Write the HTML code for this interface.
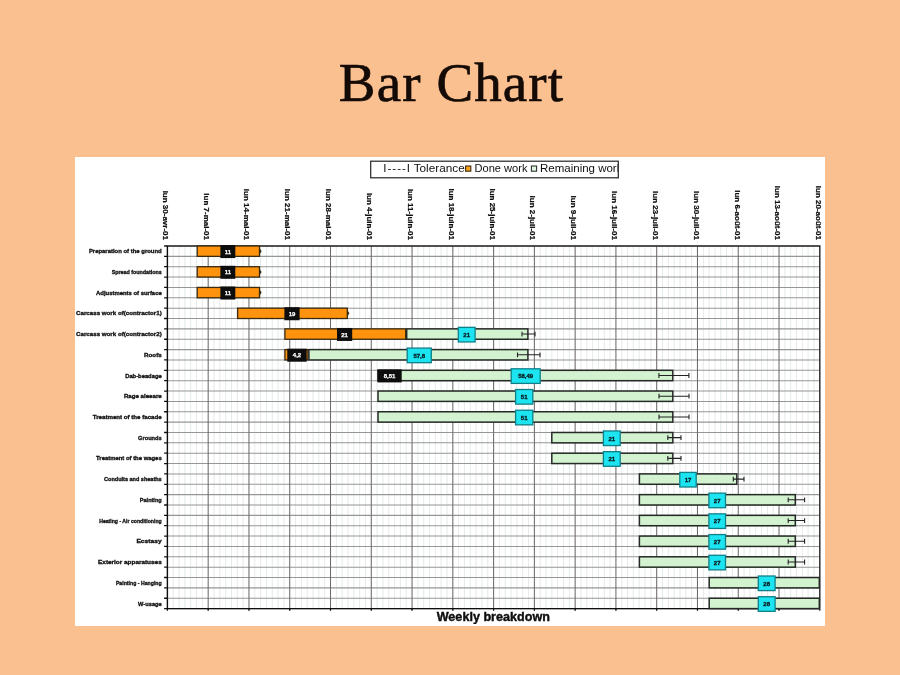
<!DOCTYPE html>
<html><head><meta charset="utf-8"><title>Bar Chart</title>
<style>
html,body{margin:0;padding:0;}
body{width:900px;height:675px;background:#FAC090;overflow:hidden;position:relative;font-family:"Liberation Sans",sans-serif;}
#title{position:absolute;left:0;top:51px;width:903px;text-align:center;font-family:"Liberation Serif",serif;font-size:55px;line-height:64px;color:#140a06;letter-spacing:1.1px;-webkit-text-stroke:0.7px #140a06;white-space:nowrap;}
</style></head><body>
<div id="title">Bar Chart</div>
<svg width="900" height="675" viewBox="0 0 900 675" style="position:absolute;left:0;top:0" font-family="'Liberation Sans', sans-serif">
<defs><filter id="b" x="-2%" y="-2%" width="104%" height="104%"><feGaussianBlur stdDeviation="0.45"/></filter></defs>
<rect x="75" y="157" width="750" height="469" fill="#ffffff"/>
<g filter="url(#b)">
<path d="M173.22 246V608.6M179.05 246V608.6M184.88 246V608.6M190.7 246V608.6M196.53 246V608.6M202.35 246V608.6M214 246V608.6M219.82 246V608.6M225.65 246V608.6M231.48 246V608.6M237.3 246V608.6M243.12 246V608.6M254.78 246V608.6M260.6 246V608.6M266.43 246V608.6M272.25 246V608.6M278.07 246V608.6M283.9 246V608.6M295.55 246V608.6M301.38 246V608.6M307.2 246V608.6M313.02 246V608.6M318.85 246V608.6M324.68 246V608.6M336.32 246V608.6M342.15 246V608.6M347.98 246V608.6M353.8 246V608.6M359.62 246V608.6M365.45 246V608.6M377.1 246V608.6M382.93 246V608.6M388.75 246V608.6M394.57 246V608.6M400.4 246V608.6M406.23 246V608.6M417.88 246V608.6M423.7 246V608.6M429.52 246V608.6M435.35 246V608.6M441.17 246V608.6M447 246V608.6M458.65 246V608.6M464.48 246V608.6M470.3 246V608.6M476.12 246V608.6M481.95 246V608.6M487.77 246V608.6M499.42 246V608.6M505.25 246V608.6M511.08 246V608.6M516.9 246V608.6M522.73 246V608.6M528.55 246V608.6M540.2 246V608.6M546.02 246V608.6M551.85 246V608.6M557.67 246V608.6M563.5 246V608.6M569.33 246V608.6M580.98 246V608.6M586.8 246V608.6M592.62 246V608.6M598.45 246V608.6M604.27 246V608.6M610.1 246V608.6M621.75 246V608.6M627.58 246V608.6M633.4 246V608.6M639.23 246V608.6M645.05 246V608.6M650.88 246V608.6M662.52 246V608.6M668.35 246V608.6M674.17 246V608.6M680 246V608.6M685.82 246V608.6M691.65 246V608.6M703.3 246V608.6M709.12 246V608.6M714.95 246V608.6M720.77 246V608.6M726.6 246V608.6M732.42 246V608.6M744.07 246V608.6M749.9 246V608.6M755.72 246V608.6M761.55 246V608.6M767.38 246V608.6M773.2 246V608.6M784.85 246V608.6M790.67 246V608.6M796.5 246V608.6M802.32 246V608.6M808.15 246V608.6M813.97 246V608.6" stroke="#e2e8e8" stroke-width="0.9" fill="none"/>
<path d="M167.4 246H819.8M167.4 256.36H819.8M167.4 266.72H819.8M167.4 277.08H819.8M167.4 287.44H819.8M167.4 297.8H819.8M167.4 308.16H819.8M167.4 318.52H819.8M167.4 328.88H819.8M167.4 339.24H819.8M167.4 349.6H819.8M167.4 359.96H819.8M167.4 370.32H819.8M167.4 380.68H819.8M167.4 391.04H819.8M167.4 401.4H819.8M167.4 411.76H819.8M167.4 422.12H819.8M167.4 432.48H819.8M167.4 442.84H819.8M167.4 453.2H819.8M167.4 463.56H819.8M167.4 473.92H819.8M167.4 484.28H819.8M167.4 494.64H819.8M167.4 505H819.8M167.4 515.36H819.8M167.4 525.72H819.8M167.4 536.08H819.8M167.4 546.44H819.8M167.4 556.8H819.8M167.4 567.16H819.8M167.4 577.52H819.8M167.4 587.88H819.8M167.4 598.24H819.8M167.4 608.6H819.8" stroke="#969696" stroke-width="1.05" fill="none"/>
<path d="M208.18 246V610.6M248.95 246V610.6M289.73 246V610.6M330.5 246V610.6M371.27 246V610.6M412.05 246V610.6M452.83 246V610.6M493.6 246V610.6M534.38 246V610.6M575.15 246V610.6M615.92 246V610.6M656.7 246V610.6M697.47 246V610.6M738.25 246V610.6M779.02 246V610.6" stroke="#6c6c6c" stroke-width="1.05" fill="none"/>
<path d="M167.4 246H819.8V608.6" stroke="#2c2c2c" stroke-width="1.45" fill="none"/>
<path d="M167.4 245.5V608.6H819.8" stroke="#111" stroke-width="1.4" fill="none"/>
<path d="M164.1 246H167.4M164.1 256.36H167.4M164.1 266.72H167.4M164.1 277.08H167.4M164.1 287.44H167.4M164.1 297.8H167.4M164.1 308.16H167.4M164.1 318.52H167.4M164.1 328.88H167.4M164.1 339.24H167.4M164.1 349.6H167.4M164.1 359.96H167.4M164.1 370.32H167.4M164.1 380.68H167.4M164.1 391.04H167.4M164.1 401.4H167.4M164.1 411.76H167.4M164.1 422.12H167.4M164.1 432.48H167.4M164.1 442.84H167.4M164.1 453.2H167.4M164.1 463.56H167.4M164.1 473.92H167.4M164.1 484.28H167.4M164.1 494.64H167.4M164.1 505H167.4M164.1 515.36H167.4M164.1 525.72H167.4M164.1 536.08H167.4M164.1 546.44H167.4M164.1 556.8H167.4M164.1 567.16H167.4M164.1 577.52H167.4M164.1 587.88H167.4M164.1 598.24H167.4M164.1 608.6H167.4" stroke="#111" stroke-width="1.3" fill="none"/>
<path d="M167.4 608.6V610.8M208.18 608.6V610.8M248.95 608.6V610.8M289.73 608.6V610.8M330.5 608.6V610.8M371.27 608.6V610.8M412.05 608.6V610.8M452.83 608.6V610.8M493.6 608.6V610.8M534.38 608.6V610.8M575.15 608.6V610.8M615.92 608.6V610.8M656.7 608.6V610.8M697.47 608.6V610.8M738.25 608.6V610.8M779.02 608.6V610.8M819.8 608.6V610.8" stroke="#111" stroke-width="1.2" fill="none"/>
<rect x="197.2" y="246" width="62.3" height="10.36" fill="#ff930a" stroke="#3a2a10" stroke-width="1.3"/>
<path d="M259.7 248.18L261.6 251.18L259.7 254.18Z" fill="#3a2a10"/>
<rect x="220.4" y="245.08" width="14.9" height="13" fill="#0a0a0a"/>
<text x="227.85" y="253.68" font-size="6" font-weight="bold" fill="#fff" stroke="#fff" stroke-width="0.25" text-anchor="middle">11</text>
<rect x="197.2" y="266.72" width="62.3" height="10.36" fill="#ff930a" stroke="#3a2a10" stroke-width="1.3"/>
<path d="M259.7 268.9L261.6 271.9L259.7 274.9Z" fill="#3a2a10"/>
<rect x="220.4" y="265.8" width="14.9" height="13" fill="#0a0a0a"/>
<text x="227.85" y="274.4" font-size="6" font-weight="bold" fill="#fff" stroke="#fff" stroke-width="0.25" text-anchor="middle">11</text>
<rect x="197.2" y="287.44" width="62.3" height="10.36" fill="#ff930a" stroke="#3a2a10" stroke-width="1.3"/>
<path d="M259.7 289.62L261.6 292.62L259.7 295.62Z" fill="#3a2a10"/>
<rect x="220.4" y="286.52" width="14.9" height="13" fill="#0a0a0a"/>
<text x="227.85" y="295.12" font-size="6" font-weight="bold" fill="#fff" stroke="#fff" stroke-width="0.25" text-anchor="middle">11</text>
<rect x="237.6" y="308.16" width="109.7" height="10.36" fill="#ff930a" stroke="#3a2a10" stroke-width="1.3"/>
<path d="M347.5 310.34L349.4 313.34L347.5 316.34Z" fill="#3a2a10"/>
<rect x="284.4" y="307.24" width="15.2" height="13" fill="#0a0a0a"/>
<text x="292" y="315.84" font-size="6" font-weight="bold" fill="#fff" stroke="#fff" stroke-width="0.25" text-anchor="middle">19</text>
<rect x="284.9" y="328.88" width="120.8" height="10.36" fill="#ff930a" stroke="#3a2a10" stroke-width="1.3"/>
<rect x="406.7" y="328.88" width="121.2" height="10.36" fill="#d2f2d0" stroke="#262b26" stroke-width="1.5"/>
<path d="M522 334.06H535M522 331.66V336.46M535 331.66V336.46" stroke="#222" stroke-width="1.1" fill="none"/>
<rect x="337" y="327.96" width="15.2" height="13" fill="#0a0a0a"/>
<text x="344.6" y="336.56" font-size="6" font-weight="bold" fill="#fff" stroke="#fff" stroke-width="0.25" text-anchor="middle">21</text>
<rect x="458.3" y="327.36" width="16.8" height="14.6" fill="#1fe4f0" stroke="#10808a" stroke-width="1.3"/>
<text x="466.7" y="336.96" font-size="6" font-weight="bold" fill="#041a20" stroke="#041a20" stroke-width="0.3" text-anchor="middle">21</text>
<rect x="284.9" y="349.6" width="23" height="10.36" fill="#ff930a" stroke="#3a2a10" stroke-width="1.3"/>
<rect x="308.9" y="349.6" width="219" height="10.36" fill="#d2f2d0" stroke="#262b26" stroke-width="1.5"/>
<path d="M517.5 354.78H540M517.5 352.38V357.18M540 352.38V357.18" stroke="#222" stroke-width="1.1" fill="none"/>
<rect x="287.3" y="348.68" width="19.4" height="13" fill="#0a0a0a"/>
<text x="297" y="357.28" font-size="6" font-weight="bold" fill="#fff" stroke="#fff" stroke-width="0.25" text-anchor="middle">4,2</text>
<rect x="407.2" y="348.08" width="24.1" height="14.6" fill="#1fe4f0" stroke="#10808a" stroke-width="1.3"/>
<text x="419.25" y="357.68" font-size="6" font-weight="bold" fill="#041a20" stroke="#041a20" stroke-width="0.3" text-anchor="middle">57,8</text>
<rect x="378" y="370.32" width="294.8" height="10.36" fill="#d2f2d0" stroke="#262b26" stroke-width="1.5"/>
<path d="M658.9 375.5H688.9M658.9 373.1V377.9M688.9 373.1V377.9" stroke="#222" stroke-width="1.1" fill="none"/>
<rect x="377.5" y="369.4" width="24.2" height="13" fill="#0a0a0a"/>
<text x="389.6" y="378" font-size="6" font-weight="bold" fill="#fff" stroke="#fff" stroke-width="0.25" text-anchor="middle">8,51</text>
<rect x="511.2" y="368.8" width="29" height="14.6" fill="#1fe4f0" stroke="#10808a" stroke-width="1.3"/>
<text x="525.7" y="378.4" font-size="6" font-weight="bold" fill="#041a20" stroke="#041a20" stroke-width="0.3" text-anchor="middle">58,49</text>
<rect x="378" y="391.04" width="294.8" height="10.36" fill="#d2f2d0" stroke="#262b26" stroke-width="1.5"/>
<path d="M659 396.22H689M659 393.82V398.62M689 393.82V398.62" stroke="#222" stroke-width="1.1" fill="none"/>
<rect x="515.6" y="389.52" width="17.2" height="14.6" fill="#1fe4f0" stroke="#10808a" stroke-width="1.3"/>
<text x="524.2" y="399.12" font-size="6" font-weight="bold" fill="#041a20" stroke="#041a20" stroke-width="0.3" text-anchor="middle">51</text>
<rect x="378" y="411.76" width="294.8" height="10.36" fill="#d2f2d0" stroke="#262b26" stroke-width="1.5"/>
<path d="M659 416.94H689M659 414.54V419.34M689 414.54V419.34" stroke="#222" stroke-width="1.1" fill="none"/>
<rect x="515.6" y="410.24" width="17.2" height="14.6" fill="#1fe4f0" stroke="#10808a" stroke-width="1.3"/>
<text x="524.2" y="419.84" font-size="6" font-weight="bold" fill="#041a20" stroke="#041a20" stroke-width="0.3" text-anchor="middle">51</text>
<rect x="551.8" y="432.48" width="121" height="10.36" fill="#d2f2d0" stroke="#262b26" stroke-width="1.5"/>
<path d="M667.8 437.66H681M667.8 435.26V440.06M681 435.26V440.06" stroke="#222" stroke-width="1.1" fill="none"/>
<rect x="603.4" y="430.96" width="16.8" height="14.6" fill="#1fe4f0" stroke="#10808a" stroke-width="1.3"/>
<text x="611.8" y="440.56" font-size="6" font-weight="bold" fill="#041a20" stroke="#041a20" stroke-width="0.3" text-anchor="middle">21</text>
<rect x="551.8" y="453.2" width="121" height="10.36" fill="#d2f2d0" stroke="#262b26" stroke-width="1.5"/>
<path d="M667.8 458.38H681M667.8 455.98V460.78M681 455.98V460.78" stroke="#222" stroke-width="1.1" fill="none"/>
<rect x="603.4" y="451.68" width="16.8" height="14.6" fill="#1fe4f0" stroke="#10808a" stroke-width="1.3"/>
<text x="611.8" y="461.28" font-size="6" font-weight="bold" fill="#041a20" stroke="#041a20" stroke-width="0.3" text-anchor="middle">21</text>
<rect x="639.4" y="473.92" width="97.4" height="10.36" fill="#d2f2d0" stroke="#262b26" stroke-width="1.5"/>
<path d="M733.3 479.1H744M733.3 476.7V481.5M744 476.7V481.5" stroke="#222" stroke-width="1.1" fill="none"/>
<rect x="679.8" y="472.4" width="16.4" height="14.6" fill="#1fe4f0" stroke="#10808a" stroke-width="1.3"/>
<text x="688" y="482" font-size="6" font-weight="bold" fill="#041a20" stroke="#041a20" stroke-width="0.3" text-anchor="middle">17</text>
<rect x="639.4" y="494.64" width="155.9" height="10.36" fill="#d2f2d0" stroke="#262b26" stroke-width="1.5"/>
<path d="M788.2 499.82H804.6M788.2 497.42V502.22M804.6 497.42V502.22" stroke="#222" stroke-width="1.1" fill="none"/>
<rect x="708.9" y="493.12" width="16.6" height="14.6" fill="#1fe4f0" stroke="#10808a" stroke-width="1.3"/>
<text x="717.2" y="502.72" font-size="6" font-weight="bold" fill="#041a20" stroke="#041a20" stroke-width="0.3" text-anchor="middle">27</text>
<rect x="639.4" y="515.36" width="155.9" height="10.36" fill="#d2f2d0" stroke="#262b26" stroke-width="1.5"/>
<path d="M788.2 520.54H804.6M788.2 518.14V522.94M804.6 518.14V522.94" stroke="#222" stroke-width="1.1" fill="none"/>
<rect x="708.9" y="513.84" width="16.6" height="14.6" fill="#1fe4f0" stroke="#10808a" stroke-width="1.3"/>
<text x="717.2" y="523.44" font-size="6" font-weight="bold" fill="#041a20" stroke="#041a20" stroke-width="0.3" text-anchor="middle">27</text>
<rect x="639.4" y="536.08" width="155.9" height="10.36" fill="#d2f2d0" stroke="#262b26" stroke-width="1.5"/>
<path d="M788.2 541.26H804.6M788.2 538.86V543.66M804.6 538.86V543.66" stroke="#222" stroke-width="1.1" fill="none"/>
<rect x="708.9" y="534.56" width="16.6" height="14.6" fill="#1fe4f0" stroke="#10808a" stroke-width="1.3"/>
<text x="717.2" y="544.16" font-size="6" font-weight="bold" fill="#041a20" stroke="#041a20" stroke-width="0.3" text-anchor="middle">27</text>
<rect x="639.4" y="556.8" width="155.9" height="10.36" fill="#d2f2d0" stroke="#262b26" stroke-width="1.5"/>
<path d="M788.2 561.98H804.6M788.2 559.58V564.38M804.6 559.58V564.38" stroke="#222" stroke-width="1.1" fill="none"/>
<rect x="708.9" y="555.28" width="16.6" height="14.6" fill="#1fe4f0" stroke="#10808a" stroke-width="1.3"/>
<text x="717.2" y="564.88" font-size="6" font-weight="bold" fill="#041a20" stroke="#041a20" stroke-width="0.3" text-anchor="middle">27</text>
<rect x="709.2" y="577.52" width="110.1" height="10.36" fill="#d2f2d0" stroke="#262b26" stroke-width="1.5"/>
<rect x="758.3" y="576" width="16.8" height="14.6" fill="#1fe4f0" stroke="#10808a" stroke-width="1.3"/>
<text x="766.7" y="585.6" font-size="6" font-weight="bold" fill="#041a20" stroke="#041a20" stroke-width="0.3" text-anchor="middle">28</text>
<rect x="709.2" y="598.24" width="110.1" height="10.36" fill="#d2f2d0" stroke="#262b26" stroke-width="1.5"/>
<rect x="758.3" y="596.72" width="16.8" height="14.6" fill="#1fe4f0" stroke="#10808a" stroke-width="1.3"/>
<text x="766.7" y="606.32" font-size="6" font-weight="bold" fill="#041a20" stroke="#041a20" stroke-width="0.3" text-anchor="middle">28</text>
<text x="88.9" y="253.28" font-size="6.2" font-weight="bold" fill="#0a0a0a" stroke="#0a0a0a" stroke-width="0.3" textLength="72.8" lengthAdjust="spacingAndGlyphs">Preparation of the ground</text>
<text x="111.7" y="274" font-size="6.2" font-weight="bold" fill="#0a0a0a" stroke="#0a0a0a" stroke-width="0.3" textLength="50" lengthAdjust="spacingAndGlyphs">Spread foundations</text>
<text x="96.1" y="294.72" font-size="6.2" font-weight="bold" fill="#0a0a0a" stroke="#0a0a0a" stroke-width="0.3" textLength="65.6" lengthAdjust="spacingAndGlyphs">Adjustments of surface</text>
<text x="76.1" y="315.44" font-size="6.2" font-weight="bold" fill="#0a0a0a" stroke="#0a0a0a" stroke-width="0.3" textLength="85.6" lengthAdjust="spacingAndGlyphs">Carcass work of(contractor1)</text>
<text x="76.1" y="336.16" font-size="6.2" font-weight="bold" fill="#0a0a0a" stroke="#0a0a0a" stroke-width="0.3" textLength="85.6" lengthAdjust="spacingAndGlyphs">Carcass work of(contractor2)</text>
<text x="144.1" y="356.88" font-size="6.2" font-weight="bold" fill="#0a0a0a" stroke="#0a0a0a" stroke-width="0.3" textLength="17.6" lengthAdjust="spacingAndGlyphs">Roofs</text>
<text x="125.2" y="377.6" font-size="6.2" font-weight="bold" fill="#0a0a0a" stroke="#0a0a0a" stroke-width="0.3" textLength="36.5" lengthAdjust="spacingAndGlyphs">Dab-beadage</text>
<text x="123.9" y="398.32" font-size="6.2" font-weight="bold" fill="#0a0a0a" stroke="#0a0a0a" stroke-width="0.3" textLength="37.8" lengthAdjust="spacingAndGlyphs">Rage aleeare</text>
<text x="92.8" y="419.04" font-size="6.2" font-weight="bold" fill="#0a0a0a" stroke="#0a0a0a" stroke-width="0.3" textLength="68.9" lengthAdjust="spacingAndGlyphs">Treatment of the facade</text>
<text x="138.1" y="439.76" font-size="6.2" font-weight="bold" fill="#0a0a0a" stroke="#0a0a0a" stroke-width="0.3" textLength="23.6" lengthAdjust="spacingAndGlyphs">Grounds</text>
<text x="96.1" y="460.48" font-size="6.2" font-weight="bold" fill="#0a0a0a" stroke="#0a0a0a" stroke-width="0.3" textLength="65.6" lengthAdjust="spacingAndGlyphs">Treatment of the wages</text>
<text x="104.1" y="481.2" font-size="6.2" font-weight="bold" fill="#0a0a0a" stroke="#0a0a0a" stroke-width="0.3" textLength="57.6" lengthAdjust="spacingAndGlyphs">Conduits and sheaths</text>
<text x="139.8" y="501.92" font-size="6.2" font-weight="bold" fill="#0a0a0a" stroke="#0a0a0a" stroke-width="0.3" textLength="21.9" lengthAdjust="spacingAndGlyphs">Painting</text>
<text x="99.2" y="522.64" font-size="6.2" font-weight="bold" fill="#0a0a0a" stroke="#0a0a0a" stroke-width="0.3" textLength="62.5" lengthAdjust="spacingAndGlyphs">Heating - Air conditioning</text>
<text x="136.4" y="543.36" font-size="6.2" font-weight="bold" fill="#0a0a0a" stroke="#0a0a0a" stroke-width="0.3" textLength="25.3" lengthAdjust="spacingAndGlyphs">Ecstasy</text>
<text x="98.1" y="564.08" font-size="6.2" font-weight="bold" fill="#0a0a0a" stroke="#0a0a0a" stroke-width="0.3" textLength="63.6" lengthAdjust="spacingAndGlyphs">Exterior apparatuses</text>
<text x="115.9" y="584.8" font-size="6.2" font-weight="bold" fill="#0a0a0a" stroke="#0a0a0a" stroke-width="0.3" textLength="45.8" lengthAdjust="spacingAndGlyphs">Painting - Hanging</text>
<text x="138.1" y="605.52" font-size="6.2" font-weight="bold" fill="#0a0a0a" stroke="#0a0a0a" stroke-width="0.3" textLength="23.6" lengthAdjust="spacingAndGlyphs">W-usage</text>
<text transform="translate(162.7,240) rotate(90)" font-size="8" font-weight="bold" fill="#0a0a0a" stroke="#0a0a0a" stroke-width="0.2" text-anchor="end">lun 30-avr-01</text>
<text transform="translate(203.55,240) rotate(90)" font-size="8" font-weight="bold" fill="#0a0a0a" stroke="#0a0a0a" stroke-width="0.2" text-anchor="end">lun 7-mai-01</text>
<text transform="translate(244.4,240) rotate(90)" font-size="8" font-weight="bold" fill="#0a0a0a" stroke="#0a0a0a" stroke-width="0.2" text-anchor="end">lun 14-mai-01</text>
<text transform="translate(285.25,240) rotate(90)" font-size="8" font-weight="bold" fill="#0a0a0a" stroke="#0a0a0a" stroke-width="0.2" text-anchor="end">lun 21-mai-01</text>
<text transform="translate(326.1,240) rotate(90)" font-size="8" font-weight="bold" fill="#0a0a0a" stroke="#0a0a0a" stroke-width="0.2" text-anchor="end">lun 28-mai-01</text>
<text transform="translate(366.95,240) rotate(90)" font-size="8" font-weight="bold" fill="#0a0a0a" stroke="#0a0a0a" stroke-width="0.2" text-anchor="end">lun 4-juin-01</text>
<text transform="translate(407.8,240) rotate(90)" font-size="8" font-weight="bold" fill="#0a0a0a" stroke="#0a0a0a" stroke-width="0.2" text-anchor="end">lun 11-juin-01</text>
<text transform="translate(448.65,240) rotate(90)" font-size="8" font-weight="bold" fill="#0a0a0a" stroke="#0a0a0a" stroke-width="0.2" text-anchor="end">lun 18-juin-01</text>
<text transform="translate(489.5,240) rotate(90)" font-size="8" font-weight="bold" fill="#0a0a0a" stroke="#0a0a0a" stroke-width="0.2" text-anchor="end">lun 25-juin-01</text>
<text transform="translate(530.35,240) rotate(90)" font-size="8" font-weight="bold" fill="#0a0a0a" stroke="#0a0a0a" stroke-width="0.2" text-anchor="end">lun 2-juil-01</text>
<text transform="translate(571.2,240) rotate(90)" font-size="8" font-weight="bold" fill="#0a0a0a" stroke="#0a0a0a" stroke-width="0.2" text-anchor="end">lun 9-juil-01</text>
<text transform="translate(612.05,240) rotate(90)" font-size="8" font-weight="bold" fill="#0a0a0a" stroke="#0a0a0a" stroke-width="0.2" text-anchor="end">lun 16-juil-01</text>
<text transform="translate(652.9,240) rotate(90)" font-size="8" font-weight="bold" fill="#0a0a0a" stroke="#0a0a0a" stroke-width="0.2" text-anchor="end">lun 23-juil-01</text>
<text transform="translate(693.75,240) rotate(90)" font-size="8" font-weight="bold" fill="#0a0a0a" stroke="#0a0a0a" stroke-width="0.2" text-anchor="end">lun 30-juil-01</text>
<text transform="translate(734.6,240) rotate(90)" font-size="8" font-weight="bold" fill="#0a0a0a" stroke="#0a0a0a" stroke-width="0.2" text-anchor="end">lun 6-août-01</text>
<text transform="translate(775.45,240) rotate(90)" font-size="8" font-weight="bold" fill="#0a0a0a" stroke="#0a0a0a" stroke-width="0.2" text-anchor="end">lun 13-août-01</text>
<text transform="translate(816.3,240) rotate(90)" font-size="8" font-weight="bold" fill="#0a0a0a" stroke="#0a0a0a" stroke-width="0.2" text-anchor="end">lun 20-août-01</text>
<rect x="370.7" y="161.2" width="247.6" height="16.6" fill="#fff" stroke="#222" stroke-width="1.2"/>
<clipPath id="lc"><rect x="371" y="161" width="247" height="17"/></clipPath>
<g clip-path="url(#lc)" font-size="11.5" fill="#111">
<text x="383.3" y="171.6" textLength="26.7" lengthAdjust="spacing">I----I</text>
<text x="413.7" y="171.6" textLength="51" lengthAdjust="spacingAndGlyphs">Tolerance</text>
<rect x="465.6" y="166" width="5.2" height="5.2" fill="#ffa31a" stroke="#3a2a10" stroke-width="1.1"/>
<text x="474.5" y="171.6" textLength="53" lengthAdjust="spacingAndGlyphs">Done work</text>
<rect x="531.4" y="166" width="5.2" height="5.2" fill="#e0f5e0" stroke="#2e332e" stroke-width="1.1"/>
<text x="540" y="171.6">Remaining work</text>
</g>
<text x="436.7" y="620.5" font-size="12.4" font-weight="bold" fill="#0a0a0a" stroke="#0a0a0a" stroke-width="0.35" textLength="113.3" lengthAdjust="spacingAndGlyphs">Weekly breakdown</text>
</g>
</svg>
</body></html>
